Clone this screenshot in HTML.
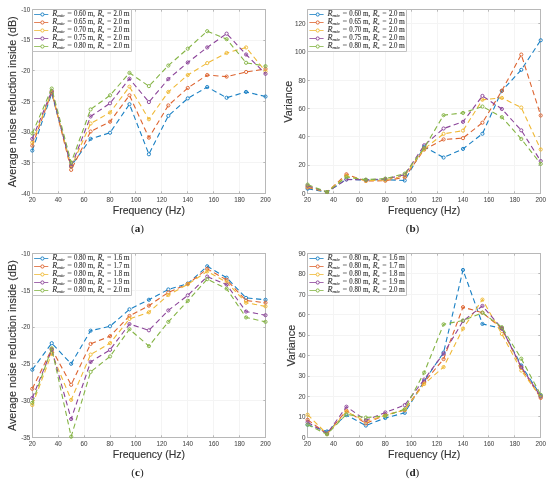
<!DOCTYPE html>
<html><head><meta charset="utf-8"><title>Figure</title>
<style>
html,body{margin:0;padding:0;background:#fff;}
body{width:550px;height:482px;overflow:hidden;}
svg{display:block;font-family:'Liberation Sans',Arial,sans-serif;}
.lg{font-family:'Liberation Serif',serif;font-size:7.4px;fill:#3a3a3a;stroke:#3a3a3a;stroke-width:0.14px;}
.i{font-style:italic;}
.e{stroke:none;fill:#7a7a7a;}
.s{font-size:4.9px;font-style:italic;}
.tk{font-size:6.3px;fill:#4a4a4a;stroke:#4a4a4a;stroke-width:0.06px;}
.xl{font-size:10.5px;fill:#333333;stroke:#333333;stroke-width:0.12px;}
.yl{font-size:10.8px;fill:#333333;stroke:#333333;stroke-width:0.12px;}
</style></head><body>
<svg width="550" height="482" viewBox="0 0 550 482">
<rect width="550" height="482" fill="#fff"/>
<path d="M58.5 9.5V193.5M84.5 9.5V193.5M110.5 9.5V193.5M135.5 9.5V193.5M161.5 9.5V193.5M187.5 9.5V193.5M213.5 9.5V193.5M239.5 9.5V193.5M32.5 162.5H265.5M32.5 132.5H265.5M32.5 101.5H265.5M32.5 70.5H265.5M32.5 40.5H265.5" stroke="#f4f4f4" stroke-width="1" fill="none"/>
<path d="M32.5 193.5v-2.2M32.5 9.5v2.2M58.5 193.5v-2.2M58.5 9.5v2.2M84.5 193.5v-2.2M84.5 9.5v2.2M110.5 193.5v-2.2M110.5 9.5v2.2M135.5 193.5v-2.2M135.5 9.5v2.2M161.5 193.5v-2.2M161.5 9.5v2.2M187.5 193.5v-2.2M187.5 9.5v2.2M213.5 193.5v-2.2M213.5 9.5v2.2M239.5 193.5v-2.2M239.5 9.5v2.2M265.5 193.5v-2.2M265.5 9.5v2.2M32.5 193.5h2.2M265.5 193.5h-2.2M32.5 162.5h2.2M265.5 162.5h-2.2M32.5 132.5h2.2M265.5 132.5h-2.2M32.5 101.5h2.2M265.5 101.5h-2.2M32.5 70.5h2.2M265.5 70.5h-2.2M32.5 40.5h2.2M265.5 40.5h-2.2M32.5 9.5h2.2M265.5 9.5h-2.2" stroke="#b8b8b8" stroke-width="1" fill="none"/>
<rect x="32.5" y="9.5" width="233" height="184" stroke="#b8b8b8" stroke-width="1" fill="none"/>
<polyline points="32.3,150.54 51.73,93.47 71.17,165.88 90.6,138.88 110.03,132.75 129.47,104.21 148.9,154.23 168.33,115.87 187.77,98.38 207.2,87.03 226.63,97.77 246.07,91.94 265.5,96.54" stroke="#1a80c4" stroke-width="1.1" stroke-dasharray="5.3 3.4" fill="none"/>
<g stroke="#1a80c4" stroke-width="0.95" fill="none"><circle cx="32.3" cy="150.54" r="1.6"/><circle cx="51.73" cy="93.47" r="1.6"/><circle cx="71.17" cy="165.88" r="1.6"/><circle cx="90.6" cy="138.88" r="1.6"/><circle cx="110.03" cy="132.75" r="1.6"/><circle cx="129.47" cy="104.21" r="1.6"/><circle cx="148.9" cy="154.23" r="1.6"/><circle cx="168.33" cy="115.87" r="1.6"/><circle cx="187.77" cy="98.38" r="1.6"/><circle cx="207.2" cy="87.03" r="1.6"/><circle cx="226.63" cy="97.77" r="1.6"/><circle cx="246.07" cy="91.94" r="1.6"/><circle cx="265.5" cy="96.54" r="1.6"/></g>
<polyline points="32.3,145.63 51.73,92.24 71.17,169.87 90.6,131.52 110.03,121.7 129.47,95.31 148.9,137.66 168.33,105.44 187.77,87.95 207.2,75.06 226.63,76.6 246.07,71.99 265.5,68.93" stroke="#dd6430" stroke-width="1.1" stroke-dasharray="5.3 3.4" fill="none"/>
<g stroke="#dd6430" stroke-width="0.95" fill="none"><circle cx="32.3" cy="145.63" r="1.6"/><circle cx="51.73" cy="92.24" r="1.6"/><circle cx="71.17" cy="169.87" r="1.6"/><circle cx="90.6" cy="131.52" r="1.6"/><circle cx="110.03" cy="121.7" r="1.6"/><circle cx="129.47" cy="95.31" r="1.6"/><circle cx="148.9" cy="137.66" r="1.6"/><circle cx="168.33" cy="105.44" r="1.6"/><circle cx="187.77" cy="87.95" r="1.6"/><circle cx="207.2" cy="75.06" r="1.6"/><circle cx="226.63" cy="76.6" r="1.6"/><circle cx="246.07" cy="71.99" r="1.6"/><circle cx="265.5" cy="68.93" r="1.6"/></g>
<polyline points="32.3,142.57 51.73,91.63 71.17,167.11 90.6,123.54 110.03,112.5 129.47,86.72 148.9,119.25 168.33,91.94 187.77,75.06 207.2,63.1 226.63,52.97 246.07,47.45 265.5,71.38" stroke="#efb936" stroke-width="1.1" stroke-dasharray="5.3 3.4" fill="none"/>
<g stroke="#efb936" stroke-width="0.95" fill="none"><circle cx="32.3" cy="142.57" r="1.6"/><circle cx="51.73" cy="91.63" r="1.6"/><circle cx="71.17" cy="167.11" r="1.6"/><circle cx="90.6" cy="123.54" r="1.6"/><circle cx="110.03" cy="112.5" r="1.6"/><circle cx="129.47" cy="86.72" r="1.6"/><circle cx="148.9" cy="119.25" r="1.6"/><circle cx="168.33" cy="91.94" r="1.6"/><circle cx="187.77" cy="75.06" r="1.6"/><circle cx="207.2" cy="63.1" r="1.6"/><circle cx="226.63" cy="52.97" r="1.6"/><circle cx="246.07" cy="47.45" r="1.6"/><circle cx="265.5" cy="71.38" r="1.6"/></g>
<polyline points="32.3,138.88 51.73,91.02 71.17,166.5 90.6,116.48 110.03,103.29 129.47,78.74 148.9,102.06 168.33,79.05 187.77,62.48 207.2,47.45 226.63,33.64 246.07,54.5 265.5,73.83" stroke="#8b4499" stroke-width="1.1" stroke-dasharray="5.3 3.4" fill="none"/>
<g stroke="#8b4499" stroke-width="0.95" fill="none"><circle cx="32.3" cy="138.88" r="1.6"/><circle cx="51.73" cy="91.02" r="1.6"/><circle cx="71.17" cy="166.5" r="1.6"/><circle cx="90.6" cy="116.48" r="1.6"/><circle cx="110.03" cy="103.29" r="1.6"/><circle cx="129.47" cy="78.74" r="1.6"/><circle cx="148.9" cy="102.06" r="1.6"/><circle cx="168.33" cy="79.05" r="1.6"/><circle cx="187.77" cy="62.48" r="1.6"/><circle cx="207.2" cy="47.45" r="1.6"/><circle cx="226.63" cy="33.64" r="1.6"/><circle cx="246.07" cy="54.5" r="1.6"/><circle cx="265.5" cy="73.83" r="1.6"/></g>
<polyline points="32.3,133.36 51.73,88.56 71.17,162.51 90.6,109.43 110.03,95.31 129.47,72.91 148.9,86.11 168.33,65.55 187.77,48.67 207.2,31.19 226.63,39.16 246.07,62.79 265.5,66.16" stroke="#85b445" stroke-width="1.1" stroke-dasharray="5.3 3.4" fill="none"/>
<g stroke="#85b445" stroke-width="0.95" fill="none"><circle cx="32.3" cy="133.36" r="1.6"/><circle cx="51.73" cy="88.56" r="1.6"/><circle cx="71.17" cy="162.51" r="1.6"/><circle cx="90.6" cy="109.43" r="1.6"/><circle cx="110.03" cy="95.31" r="1.6"/><circle cx="129.47" cy="72.91" r="1.6"/><circle cx="148.9" cy="86.11" r="1.6"/><circle cx="168.33" cy="65.55" r="1.6"/><circle cx="187.77" cy="48.67" r="1.6"/><circle cx="207.2" cy="31.19" r="1.6"/><circle cx="226.63" cy="39.16" r="1.6"/><circle cx="246.07" cy="62.79" r="1.6"/><circle cx="265.5" cy="66.16" r="1.6"/></g>
<g class="tk" text-anchor="middle"><text x="32.3" y="201.8">20</text><text x="58.21" y="201.8">40</text><text x="84.12" y="201.8">60</text><text x="110.03" y="201.8">80</text><text x="135.94" y="201.8">100</text><text x="161.86" y="201.8">120</text><text x="187.77" y="201.8">140</text><text x="213.68" y="201.8">160</text><text x="239.59" y="201.8">180</text><text x="265.5" y="201.8">200</text></g>
<g class="tk" text-anchor="end"><text x="30.3" y="195.8">-40</text><text x="30.3" y="165.12">-35</text><text x="30.3" y="134.43">-30</text><text x="30.3" y="103.75">-25</text><text x="30.3" y="73.07">-20</text><text x="30.3" y="42.38">-15</text><text x="30.3" y="11.7">-10</text></g>
<text x="148.9" y="213.8" class="xl" text-anchor="middle">Frequency (Hz)</text>
<text transform="translate(16.3 101.75) rotate(-90)" class="yl" text-anchor="middle">Average noise reduction inside (dB)</text>
<text x="137.5" y="232.3" font-family="'Liberation Serif', serif" font-size="11.1" fill="#222" text-anchor="middle">(<tspan font-weight="bold">a</tspan>)</text>
<rect x="32.5" y="9.5" width="99" height="42" fill="#fff"/>
<path d="M32.5 51.5H131.5V9.5" stroke="#c2c2c2" stroke-width="1" fill="none"/>
<path d="M32.5 51.5V9.5H131.5" stroke="#b8b8b8" stroke-width="1" fill="none"/>
<path d="M34.1 14.5H48.3" stroke="#338eca" stroke-width="0.9"/>
<circle cx="42.4" cy="14.5" r="1.6" stroke="#1a80c4" stroke-width="0.95" fill="#fff"/>
<g class="lg" transform="translate(52.3 16.4) scale(1 1.0)"><text x="0" y="0" textLength="5" lengthAdjust="spacingAndGlyphs" class="i">R</text><text x="5" y="0.5" textLength="7.2" lengthAdjust="spacingAndGlyphs" class="s">mic</text><text x="14.9" y="0" textLength="4.7" lengthAdjust="spacingAndGlyphs" class="e">=</text><text x="21.7" y="0" textLength="11.9" lengthAdjust="spacingAndGlyphs">0.60</text><text x="35.5" y="0" textLength="7.3" lengthAdjust="spacingAndGlyphs">m,</text><text x="45.1" y="0" textLength="4.8" lengthAdjust="spacingAndGlyphs" class="i">R</text><text x="49.9" y="0.5" textLength="1.9" lengthAdjust="spacingAndGlyphs" class="s">s</text><text x="54.7" y="0" textLength="4.4" lengthAdjust="spacingAndGlyphs" class="e">=</text><text x="61.3" y="0" textLength="8.5" lengthAdjust="spacingAndGlyphs">2.0</text><text x="71.5" y="0" textLength="5.8" lengthAdjust="spacingAndGlyphs">m</text></g>
<path d="M34.1 22.5H48.3" stroke="#e17547" stroke-width="0.9"/>
<circle cx="42.4" cy="22.5" r="1.6" stroke="#dd6430" stroke-width="0.95" fill="#fff"/>
<g class="lg" transform="translate(52.3 24.4) scale(1 1.0)"><text x="0" y="0" textLength="5" lengthAdjust="spacingAndGlyphs" class="i">R</text><text x="5" y="0.5" textLength="7.2" lengthAdjust="spacingAndGlyphs" class="s">mic</text><text x="14.9" y="0" textLength="4.7" lengthAdjust="spacingAndGlyphs" class="e">=</text><text x="21.7" y="0" textLength="11.9" lengthAdjust="spacingAndGlyphs">0.65</text><text x="35.5" y="0" textLength="7.3" lengthAdjust="spacingAndGlyphs">m,</text><text x="45.1" y="0" textLength="4.8" lengthAdjust="spacingAndGlyphs" class="i">R</text><text x="49.9" y="0.5" textLength="1.9" lengthAdjust="spacingAndGlyphs" class="s">s</text><text x="54.7" y="0" textLength="4.4" lengthAdjust="spacingAndGlyphs" class="e">=</text><text x="61.3" y="0" textLength="8.5" lengthAdjust="spacingAndGlyphs">2.0</text><text x="71.5" y="0" textLength="5.8" lengthAdjust="spacingAndGlyphs">m</text></g>
<path d="M34.1 30.5H48.3" stroke="#f1c14d" stroke-width="0.9"/>
<circle cx="42.4" cy="30.5" r="1.6" stroke="#efb936" stroke-width="0.95" fill="#fff"/>
<g class="lg" transform="translate(52.3 32.4) scale(1 1.0)"><text x="0" y="0" textLength="5" lengthAdjust="spacingAndGlyphs" class="i">R</text><text x="5" y="0.5" textLength="7.2" lengthAdjust="spacingAndGlyphs" class="s">mic</text><text x="14.9" y="0" textLength="4.7" lengthAdjust="spacingAndGlyphs" class="e">=</text><text x="21.7" y="0" textLength="11.9" lengthAdjust="spacingAndGlyphs">0.70</text><text x="35.5" y="0" textLength="7.3" lengthAdjust="spacingAndGlyphs">m,</text><text x="45.1" y="0" textLength="4.8" lengthAdjust="spacingAndGlyphs" class="i">R</text><text x="49.9" y="0.5" textLength="1.9" lengthAdjust="spacingAndGlyphs" class="s">s</text><text x="54.7" y="0" textLength="4.4" lengthAdjust="spacingAndGlyphs" class="e">=</text><text x="61.3" y="0" textLength="8.5" lengthAdjust="spacingAndGlyphs">2.0</text><text x="71.5" y="0" textLength="5.8" lengthAdjust="spacingAndGlyphs">m</text></g>
<path d="M34.1 38.5H48.3" stroke="#9859a5" stroke-width="0.9"/>
<circle cx="42.4" cy="38.5" r="1.6" stroke="#8b4499" stroke-width="0.95" fill="#fff"/>
<g class="lg" transform="translate(52.3 40.4) scale(1 1.0)"><text x="0" y="0" textLength="5" lengthAdjust="spacingAndGlyphs" class="i">R</text><text x="5" y="0.5" textLength="7.2" lengthAdjust="spacingAndGlyphs" class="s">mic</text><text x="14.9" y="0" textLength="4.7" lengthAdjust="spacingAndGlyphs" class="e">=</text><text x="21.7" y="0" textLength="11.9" lengthAdjust="spacingAndGlyphs">0.75</text><text x="35.5" y="0" textLength="7.3" lengthAdjust="spacingAndGlyphs">m,</text><text x="45.1" y="0" textLength="4.8" lengthAdjust="spacingAndGlyphs" class="i">R</text><text x="49.9" y="0.5" textLength="1.9" lengthAdjust="spacingAndGlyphs" class="s">s</text><text x="54.7" y="0" textLength="4.4" lengthAdjust="spacingAndGlyphs" class="e">=</text><text x="61.3" y="0" textLength="8.5" lengthAdjust="spacingAndGlyphs">2.0</text><text x="71.5" y="0" textLength="5.8" lengthAdjust="spacingAndGlyphs">m</text></g>
<path d="M34.1 46.5H48.3" stroke="#92bd59" stroke-width="0.9"/>
<circle cx="42.4" cy="46.5" r="1.6" stroke="#85b445" stroke-width="0.95" fill="#fff"/>
<g class="lg" transform="translate(52.3 48.4) scale(1 1.0)"><text x="0" y="0" textLength="5" lengthAdjust="spacingAndGlyphs" class="i">R</text><text x="5" y="0.5" textLength="7.2" lengthAdjust="spacingAndGlyphs" class="s">mic</text><text x="14.9" y="0" textLength="4.7" lengthAdjust="spacingAndGlyphs" class="e">=</text><text x="21.7" y="0" textLength="11.9" lengthAdjust="spacingAndGlyphs">0.80</text><text x="35.5" y="0" textLength="7.3" lengthAdjust="spacingAndGlyphs">m,</text><text x="45.1" y="0" textLength="4.8" lengthAdjust="spacingAndGlyphs" class="i">R</text><text x="49.9" y="0.5" textLength="1.9" lengthAdjust="spacingAndGlyphs" class="s">s</text><text x="54.7" y="0" textLength="4.4" lengthAdjust="spacingAndGlyphs" class="e">=</text><text x="61.3" y="0" textLength="8.5" lengthAdjust="spacingAndGlyphs">2.0</text><text x="71.5" y="0" textLength="5.8" lengthAdjust="spacingAndGlyphs">m</text></g>
<path d="M333.5 9.5V193.5M359.5 9.5V193.5M385.5 9.5V193.5M411.5 9.5V193.5M437.5 9.5V193.5M463.5 9.5V193.5M488.5 9.5V193.5M514.5 9.5V193.5M307.5 165.5H540.5M307.5 136.5H540.5M307.5 108.5H540.5M307.5 80.5H540.5M307.5 51.5H540.5M307.5 23.5H540.5" stroke="#f4f4f4" stroke-width="1" fill="none"/>
<path d="M307.5 193.5v-2.2M307.5 9.5v2.2M333.5 193.5v-2.2M333.5 9.5v2.2M359.5 193.5v-2.2M359.5 9.5v2.2M385.5 193.5v-2.2M385.5 9.5v2.2M411.5 193.5v-2.2M411.5 9.5v2.2M437.5 193.5v-2.2M437.5 9.5v2.2M463.5 193.5v-2.2M463.5 9.5v2.2M488.5 193.5v-2.2M488.5 9.5v2.2M514.5 193.5v-2.2M514.5 9.5v2.2M540.5 193.5v-2.2M540.5 9.5v2.2M307.5 193.5h2.2M540.5 193.5h-2.2M307.5 165.5h2.2M540.5 165.5h-2.2M307.5 136.5h2.2M540.5 136.5h-2.2M307.5 108.5h2.2M540.5 108.5h-2.2M307.5 80.5h2.2M540.5 80.5h-2.2M307.5 51.5h2.2M540.5 51.5h-2.2M307.5 23.5h2.2M540.5 23.5h-2.2" stroke="#b8b8b8" stroke-width="1" fill="none"/>
<rect x="307.5" y="9.5" width="233" height="184" stroke="#b8b8b8" stroke-width="1" fill="none"/>
<polyline points="307.6,188.69 327.03,192.08 346.45,179.34 365.88,180.05 385.3,179.62 404.73,180.47 424.15,146.77 443.58,157.53 463,148.89 482.43,133.74 501.85,90.83 521.28,69.87 540.7,40.27" stroke="#1a80c4" stroke-width="1.1" stroke-dasharray="5.3 3.4" fill="none"/>
<g stroke="#1a80c4" stroke-width="0.95" fill="none"><circle cx="307.6" cy="188.69" r="1.6"/><circle cx="327.03" cy="192.08" r="1.6"/><circle cx="346.45" cy="179.34" r="1.6"/><circle cx="365.88" cy="180.05" r="1.6"/><circle cx="385.3" cy="179.62" r="1.6"/><circle cx="404.73" cy="180.47" r="1.6"/><circle cx="424.15" cy="146.77" r="1.6"/><circle cx="443.58" cy="157.53" r="1.6"/><circle cx="463" cy="148.89" r="1.6"/><circle cx="482.43" cy="133.74" r="1.6"/><circle cx="501.85" cy="90.83" r="1.6"/><circle cx="521.28" cy="69.87" r="1.6"/><circle cx="540.7" cy="40.27" r="1.6"/></g>
<polyline points="307.6,187.41 327.03,192.08 346.45,174.24 365.88,181.04 385.3,180.75 404.73,177.36 424.15,149.6 443.58,139.4 463,138.13 482.43,122.69 501.85,90.83 521.28,54.58 540.7,115.47" stroke="#dd6430" stroke-width="1.1" stroke-dasharray="5.3 3.4" fill="none"/>
<g stroke="#dd6430" stroke-width="0.95" fill="none"><circle cx="307.6" cy="187.41" r="1.6"/><circle cx="327.03" cy="192.08" r="1.6"/><circle cx="346.45" cy="174.24" r="1.6"/><circle cx="365.88" cy="181.04" r="1.6"/><circle cx="385.3" cy="180.75" r="1.6"/><circle cx="404.73" cy="177.36" r="1.6"/><circle cx="424.15" cy="149.6" r="1.6"/><circle cx="443.58" cy="139.4" r="1.6"/><circle cx="463" cy="138.13" r="1.6"/><circle cx="482.43" cy="122.69" r="1.6"/><circle cx="501.85" cy="90.83" r="1.6"/><circle cx="521.28" cy="54.58" r="1.6"/><circle cx="540.7" cy="115.47" r="1.6"/></g>
<polyline points="307.6,186.7 327.03,192.08 346.45,175.94 365.88,180.75 385.3,179.9 404.73,175.8 424.15,148.89 443.58,133.88 463,130.62 482.43,99.75 501.85,97.91 521.28,107.54 540.7,149.46" stroke="#efb936" stroke-width="1.1" stroke-dasharray="5.3 3.4" fill="none"/>
<g stroke="#efb936" stroke-width="0.95" fill="none"><circle cx="307.6" cy="186.7" r="1.6"/><circle cx="327.03" cy="192.08" r="1.6"/><circle cx="346.45" cy="175.94" r="1.6"/><circle cx="365.88" cy="180.75" r="1.6"/><circle cx="385.3" cy="179.9" r="1.6"/><circle cx="404.73" cy="175.8" r="1.6"/><circle cx="424.15" cy="148.89" r="1.6"/><circle cx="443.58" cy="133.88" r="1.6"/><circle cx="463" cy="130.62" r="1.6"/><circle cx="482.43" cy="99.75" r="1.6"/><circle cx="501.85" cy="97.91" r="1.6"/><circle cx="521.28" cy="107.54" r="1.6"/><circle cx="540.7" cy="149.46" r="1.6"/></g>
<polyline points="307.6,185.71 327.03,192.08 346.45,179.48 365.88,179.9 385.3,178.91 404.73,174.81 424.15,145.35 443.58,128.5 463,121.84 482.43,95.93 501.85,108.96 521.28,130.34 540.7,161.07" stroke="#8b4499" stroke-width="1.1" stroke-dasharray="5.3 3.4" fill="none"/>
<g stroke="#8b4499" stroke-width="0.95" fill="none"><circle cx="307.6" cy="185.71" r="1.6"/><circle cx="327.03" cy="192.08" r="1.6"/><circle cx="346.45" cy="179.48" r="1.6"/><circle cx="365.88" cy="179.9" r="1.6"/><circle cx="385.3" cy="178.91" r="1.6"/><circle cx="404.73" cy="174.81" r="1.6"/><circle cx="424.15" cy="145.35" r="1.6"/><circle cx="443.58" cy="128.5" r="1.6"/><circle cx="463" cy="121.84" r="1.6"/><circle cx="482.43" cy="95.93" r="1.6"/><circle cx="501.85" cy="108.96" r="1.6"/><circle cx="521.28" cy="130.34" r="1.6"/><circle cx="540.7" cy="161.07" r="1.6"/></g>
<polyline points="307.6,184.58 327.03,192.08 346.45,177.07 365.88,179.62 385.3,178.63 404.73,173.67 424.15,148.18 443.58,115.19 463,112.92 482.43,106.55 501.85,117.17 521.28,138.98 540.7,163.9" stroke="#85b445" stroke-width="1.1" stroke-dasharray="5.3 3.4" fill="none"/>
<g stroke="#85b445" stroke-width="0.95" fill="none"><circle cx="307.6" cy="184.58" r="1.6"/><circle cx="327.03" cy="192.08" r="1.6"/><circle cx="346.45" cy="177.07" r="1.6"/><circle cx="365.88" cy="179.62" r="1.6"/><circle cx="385.3" cy="178.63" r="1.6"/><circle cx="404.73" cy="173.67" r="1.6"/><circle cx="424.15" cy="148.18" r="1.6"/><circle cx="443.58" cy="115.19" r="1.6"/><circle cx="463" cy="112.92" r="1.6"/><circle cx="482.43" cy="106.55" r="1.6"/><circle cx="501.85" cy="117.17" r="1.6"/><circle cx="521.28" cy="138.98" r="1.6"/><circle cx="540.7" cy="163.9" r="1.6"/></g>
<g class="tk" text-anchor="middle"><text x="307.6" y="201.8">20</text><text x="333.5" y="201.8">40</text><text x="359.4" y="201.8">60</text><text x="385.3" y="201.8">80</text><text x="411.2" y="201.8">100</text><text x="437.1" y="201.8">120</text><text x="463" y="201.8">140</text><text x="488.9" y="201.8">160</text><text x="514.8" y="201.8">180</text><text x="540.7" y="201.8">200</text></g>
<g class="tk" text-anchor="end"><text x="305.6" y="195.8">0</text><text x="305.6" y="167.48">20</text><text x="305.6" y="139.15">40</text><text x="305.6" y="110.83">60</text><text x="305.6" y="82.51">80</text><text x="305.6" y="54.18">100</text><text x="305.6" y="25.86">120</text></g>
<text x="424.15" y="213.8" class="xl" text-anchor="middle">Frequency (Hz)</text>
<text transform="translate(291.6 101.75) rotate(-90)" class="yl" text-anchor="middle">Variance</text>
<text x="412.5" y="232.3" font-family="'Liberation Serif', serif" font-size="11.1" fill="#222" text-anchor="middle">(<tspan font-weight="bold">b</tspan>)</text>
<rect x="307.5" y="9.5" width="99" height="42" fill="#fff"/>
<path d="M307.5 51.5H406.5V9.5" stroke="#c2c2c2" stroke-width="1" fill="none"/>
<path d="M307.5 51.5V9.5H406.5" stroke="#b8b8b8" stroke-width="1" fill="none"/>
<path d="M309.4 14.5H323.6" stroke="#338eca" stroke-width="0.9"/>
<circle cx="317.7" cy="14.5" r="1.6" stroke="#1a80c4" stroke-width="0.95" fill="#fff"/>
<g class="lg" transform="translate(327.6 16.4) scale(1 1.0)"><text x="0" y="0" textLength="5" lengthAdjust="spacingAndGlyphs" class="i">R</text><text x="5" y="0.5" textLength="7.2" lengthAdjust="spacingAndGlyphs" class="s">mic</text><text x="14.9" y="0" textLength="4.7" lengthAdjust="spacingAndGlyphs" class="e">=</text><text x="21.7" y="0" textLength="11.9" lengthAdjust="spacingAndGlyphs">0.60</text><text x="35.5" y="0" textLength="7.3" lengthAdjust="spacingAndGlyphs">m,</text><text x="45.1" y="0" textLength="4.8" lengthAdjust="spacingAndGlyphs" class="i">R</text><text x="49.9" y="0.5" textLength="1.9" lengthAdjust="spacingAndGlyphs" class="s">s</text><text x="54.7" y="0" textLength="4.4" lengthAdjust="spacingAndGlyphs" class="e">=</text><text x="61.3" y="0" textLength="8.5" lengthAdjust="spacingAndGlyphs">2.0</text><text x="71.5" y="0" textLength="5.8" lengthAdjust="spacingAndGlyphs">m</text></g>
<path d="M309.4 22.5H323.6" stroke="#e17547" stroke-width="0.9"/>
<circle cx="317.7" cy="22.5" r="1.6" stroke="#dd6430" stroke-width="0.95" fill="#fff"/>
<g class="lg" transform="translate(327.6 24.4) scale(1 1.0)"><text x="0" y="0" textLength="5" lengthAdjust="spacingAndGlyphs" class="i">R</text><text x="5" y="0.5" textLength="7.2" lengthAdjust="spacingAndGlyphs" class="s">mic</text><text x="14.9" y="0" textLength="4.7" lengthAdjust="spacingAndGlyphs" class="e">=</text><text x="21.7" y="0" textLength="11.9" lengthAdjust="spacingAndGlyphs">0.65</text><text x="35.5" y="0" textLength="7.3" lengthAdjust="spacingAndGlyphs">m,</text><text x="45.1" y="0" textLength="4.8" lengthAdjust="spacingAndGlyphs" class="i">R</text><text x="49.9" y="0.5" textLength="1.9" lengthAdjust="spacingAndGlyphs" class="s">s</text><text x="54.7" y="0" textLength="4.4" lengthAdjust="spacingAndGlyphs" class="e">=</text><text x="61.3" y="0" textLength="8.5" lengthAdjust="spacingAndGlyphs">2.0</text><text x="71.5" y="0" textLength="5.8" lengthAdjust="spacingAndGlyphs">m</text></g>
<path d="M309.4 30.5H323.6" stroke="#f1c14d" stroke-width="0.9"/>
<circle cx="317.7" cy="30.5" r="1.6" stroke="#efb936" stroke-width="0.95" fill="#fff"/>
<g class="lg" transform="translate(327.6 32.4) scale(1 1.0)"><text x="0" y="0" textLength="5" lengthAdjust="spacingAndGlyphs" class="i">R</text><text x="5" y="0.5" textLength="7.2" lengthAdjust="spacingAndGlyphs" class="s">mic</text><text x="14.9" y="0" textLength="4.7" lengthAdjust="spacingAndGlyphs" class="e">=</text><text x="21.7" y="0" textLength="11.9" lengthAdjust="spacingAndGlyphs">0.70</text><text x="35.5" y="0" textLength="7.3" lengthAdjust="spacingAndGlyphs">m,</text><text x="45.1" y="0" textLength="4.8" lengthAdjust="spacingAndGlyphs" class="i">R</text><text x="49.9" y="0.5" textLength="1.9" lengthAdjust="spacingAndGlyphs" class="s">s</text><text x="54.7" y="0" textLength="4.4" lengthAdjust="spacingAndGlyphs" class="e">=</text><text x="61.3" y="0" textLength="8.5" lengthAdjust="spacingAndGlyphs">2.0</text><text x="71.5" y="0" textLength="5.8" lengthAdjust="spacingAndGlyphs">m</text></g>
<path d="M309.4 38.5H323.6" stroke="#9859a5" stroke-width="0.9"/>
<circle cx="317.7" cy="38.5" r="1.6" stroke="#8b4499" stroke-width="0.95" fill="#fff"/>
<g class="lg" transform="translate(327.6 40.4) scale(1 1.0)"><text x="0" y="0" textLength="5" lengthAdjust="spacingAndGlyphs" class="i">R</text><text x="5" y="0.5" textLength="7.2" lengthAdjust="spacingAndGlyphs" class="s">mic</text><text x="14.9" y="0" textLength="4.7" lengthAdjust="spacingAndGlyphs" class="e">=</text><text x="21.7" y="0" textLength="11.9" lengthAdjust="spacingAndGlyphs">0.75</text><text x="35.5" y="0" textLength="7.3" lengthAdjust="spacingAndGlyphs">m,</text><text x="45.1" y="0" textLength="4.8" lengthAdjust="spacingAndGlyphs" class="i">R</text><text x="49.9" y="0.5" textLength="1.9" lengthAdjust="spacingAndGlyphs" class="s">s</text><text x="54.7" y="0" textLength="4.4" lengthAdjust="spacingAndGlyphs" class="e">=</text><text x="61.3" y="0" textLength="8.5" lengthAdjust="spacingAndGlyphs">2.0</text><text x="71.5" y="0" textLength="5.8" lengthAdjust="spacingAndGlyphs">m</text></g>
<path d="M309.4 46.5H323.6" stroke="#92bd59" stroke-width="0.9"/>
<circle cx="317.7" cy="46.5" r="1.6" stroke="#85b445" stroke-width="0.95" fill="#fff"/>
<g class="lg" transform="translate(327.6 48.4) scale(1 1.0)"><text x="0" y="0" textLength="5" lengthAdjust="spacingAndGlyphs" class="i">R</text><text x="5" y="0.5" textLength="7.2" lengthAdjust="spacingAndGlyphs" class="s">mic</text><text x="14.9" y="0" textLength="4.7" lengthAdjust="spacingAndGlyphs" class="e">=</text><text x="21.7" y="0" textLength="11.9" lengthAdjust="spacingAndGlyphs">0.80</text><text x="35.5" y="0" textLength="7.3" lengthAdjust="spacingAndGlyphs">m,</text><text x="45.1" y="0" textLength="4.8" lengthAdjust="spacingAndGlyphs" class="i">R</text><text x="49.9" y="0.5" textLength="1.9" lengthAdjust="spacingAndGlyphs" class="s">s</text><text x="54.7" y="0" textLength="4.4" lengthAdjust="spacingAndGlyphs" class="e">=</text><text x="61.3" y="0" textLength="8.5" lengthAdjust="spacingAndGlyphs">2.0</text><text x="71.5" y="0" textLength="5.8" lengthAdjust="spacingAndGlyphs">m</text></g>
<path d="M58.5 253.5V437.5M84.5 253.5V437.5M110.5 253.5V437.5M135.5 253.5V437.5M161.5 253.5V437.5M187.5 253.5V437.5M213.5 253.5V437.5M239.5 253.5V437.5M32.5 400.5H265.5M32.5 363.5H265.5M32.5 327.5H265.5M32.5 290.5H265.5" stroke="#f4f4f4" stroke-width="1" fill="none"/>
<path d="M32.5 437.5v-2.2M32.5 253.5v2.2M58.5 437.5v-2.2M58.5 253.5v2.2M84.5 437.5v-2.2M84.5 253.5v2.2M110.5 437.5v-2.2M110.5 253.5v2.2M135.5 437.5v-2.2M135.5 253.5v2.2M161.5 437.5v-2.2M161.5 253.5v2.2M187.5 437.5v-2.2M187.5 253.5v2.2M213.5 437.5v-2.2M213.5 253.5v2.2M239.5 437.5v-2.2M239.5 253.5v2.2M265.5 437.5v-2.2M265.5 253.5v2.2M32.5 437.5h2.2M265.5 437.5h-2.2M32.5 400.5h2.2M265.5 400.5h-2.2M32.5 363.5h2.2M265.5 363.5h-2.2M32.5 327.5h2.2M265.5 327.5h-2.2M32.5 290.5h2.2M265.5 290.5h-2.2M32.5 253.5h2.2M265.5 253.5h-2.2" stroke="#b8b8b8" stroke-width="1" fill="none"/>
<rect x="32.5" y="253.5" width="233" height="184" stroke="#b8b8b8" stroke-width="1" fill="none"/>
<polyline points="32.3,369.69 51.73,343.19 71.17,363.8 90.6,330.68 110.03,326.26 129.47,309.34 148.9,299.77 168.33,289.46 187.77,283.58 207.2,266.28 226.63,277.69 246.07,297.93 265.5,299.77" stroke="#1a80c4" stroke-width="1.1" stroke-dasharray="5.3 3.4" fill="none"/>
<g stroke="#1a80c4" stroke-width="0.95" fill="none"><circle cx="32.3" cy="369.69" r="1.6"/><circle cx="51.73" cy="343.19" r="1.6"/><circle cx="71.17" cy="363.8" r="1.6"/><circle cx="90.6" cy="330.68" r="1.6"/><circle cx="110.03" cy="326.26" r="1.6"/><circle cx="129.47" cy="309.34" r="1.6"/><circle cx="148.9" cy="299.77" r="1.6"/><circle cx="168.33" cy="289.46" r="1.6"/><circle cx="187.77" cy="283.58" r="1.6"/><circle cx="207.2" cy="266.28" r="1.6"/><circle cx="226.63" cy="277.69" r="1.6"/><circle cx="246.07" cy="297.93" r="1.6"/><circle cx="265.5" cy="299.77" r="1.6"/></g>
<polyline points="32.3,388.82 51.73,349.08 71.17,384.78 90.6,343.93 110.03,336.2 129.47,315.96 148.9,305.66 168.33,292.41 187.77,283.94 207.2,268.86 226.63,279.9 246.07,300.5 265.5,302.71" stroke="#dd6430" stroke-width="1.1" stroke-dasharray="5.3 3.4" fill="none"/>
<g stroke="#dd6430" stroke-width="0.95" fill="none"><circle cx="32.3" cy="388.82" r="1.6"/><circle cx="51.73" cy="349.08" r="1.6"/><circle cx="71.17" cy="384.78" r="1.6"/><circle cx="90.6" cy="343.93" r="1.6"/><circle cx="110.03" cy="336.2" r="1.6"/><circle cx="129.47" cy="315.96" r="1.6"/><circle cx="148.9" cy="305.66" r="1.6"/><circle cx="168.33" cy="292.41" r="1.6"/><circle cx="187.77" cy="283.94" r="1.6"/><circle cx="207.2" cy="268.86" r="1.6"/><circle cx="226.63" cy="279.9" r="1.6"/><circle cx="246.07" cy="300.5" r="1.6"/><circle cx="265.5" cy="302.71" r="1.6"/></g>
<polyline points="32.3,405.02 51.73,353.5 71.17,399.86 90.6,354.6 110.03,343.19 129.47,318.9 148.9,312.28 168.33,294.98 187.77,284.31 207.2,271.43 226.63,282.1 246.07,302.71 265.5,306.39" stroke="#efb936" stroke-width="1.1" stroke-dasharray="5.3 3.4" fill="none"/>
<g stroke="#efb936" stroke-width="0.95" fill="none"><circle cx="32.3" cy="405.02" r="1.6"/><circle cx="51.73" cy="353.5" r="1.6"/><circle cx="71.17" cy="399.86" r="1.6"/><circle cx="90.6" cy="354.6" r="1.6"/><circle cx="110.03" cy="343.19" r="1.6"/><circle cx="129.47" cy="318.9" r="1.6"/><circle cx="148.9" cy="312.28" r="1.6"/><circle cx="168.33" cy="294.98" r="1.6"/><circle cx="187.77" cy="284.31" r="1.6"/><circle cx="207.2" cy="271.43" r="1.6"/><circle cx="226.63" cy="282.1" r="1.6"/><circle cx="246.07" cy="302.71" r="1.6"/><circle cx="265.5" cy="306.39" r="1.6"/></g>
<polyline points="32.3,398.02 51.73,349.82 71.17,419 90.6,361.96 110.03,349.82 129.47,324.06 148.9,330.31 168.33,310.44 187.77,295.35 207.2,276.58 226.63,284.68 246.07,311.54 265.5,315.22" stroke="#8b4499" stroke-width="1.1" stroke-dasharray="5.3 3.4" fill="none"/>
<g stroke="#8b4499" stroke-width="0.95" fill="none"><circle cx="32.3" cy="398.02" r="1.6"/><circle cx="51.73" cy="349.82" r="1.6"/><circle cx="71.17" cy="419" r="1.6"/><circle cx="90.6" cy="361.96" r="1.6"/><circle cx="110.03" cy="349.82" r="1.6"/><circle cx="129.47" cy="324.06" r="1.6"/><circle cx="148.9" cy="330.31" r="1.6"/><circle cx="168.33" cy="310.44" r="1.6"/><circle cx="187.77" cy="295.35" r="1.6"/><circle cx="207.2" cy="276.58" r="1.6"/><circle cx="226.63" cy="284.68" r="1.6"/><circle cx="246.07" cy="311.54" r="1.6"/><circle cx="265.5" cy="315.22" r="1.6"/></g>
<polyline points="32.3,402.81 51.73,348.34 71.17,436.66 90.6,371.9 110.03,356.44 129.47,329.21 148.9,346.14 168.33,321.85 187.77,300.87 207.2,279.16 226.63,288.73 246.07,317.43 265.5,321.85" stroke="#85b445" stroke-width="1.1" stroke-dasharray="5.3 3.4" fill="none"/>
<g stroke="#85b445" stroke-width="0.95" fill="none"><circle cx="32.3" cy="402.81" r="1.6"/><circle cx="51.73" cy="348.34" r="1.6"/><circle cx="71.17" cy="436.66" r="1.6"/><circle cx="90.6" cy="371.9" r="1.6"/><circle cx="110.03" cy="356.44" r="1.6"/><circle cx="129.47" cy="329.21" r="1.6"/><circle cx="148.9" cy="346.14" r="1.6"/><circle cx="168.33" cy="321.85" r="1.6"/><circle cx="187.77" cy="300.87" r="1.6"/><circle cx="207.2" cy="279.16" r="1.6"/><circle cx="226.63" cy="288.73" r="1.6"/><circle cx="246.07" cy="317.43" r="1.6"/><circle cx="265.5" cy="321.85" r="1.6"/></g>
<g class="tk" text-anchor="middle"><text x="32.3" y="445.8">20</text><text x="58.21" y="445.8">40</text><text x="84.12" y="445.8">60</text><text x="110.03" y="445.8">80</text><text x="135.94" y="445.8">100</text><text x="161.86" y="445.8">120</text><text x="187.77" y="445.8">140</text><text x="213.68" y="445.8">160</text><text x="239.59" y="445.8">180</text><text x="265.5" y="445.8">200</text></g>
<g class="tk" text-anchor="end"><text x="30.3" y="439.7">-35</text><text x="30.3" y="402.9">-30</text><text x="30.3" y="366.1">-25</text><text x="30.3" y="329.3">-20</text><text x="30.3" y="292.5">-15</text><text x="30.3" y="255.7">-10</text></g>
<text x="148.9" y="457.8" class="xl" text-anchor="middle">Frequency (Hz)</text>
<text transform="translate(16.3 345.7) rotate(-90)" class="yl" text-anchor="middle">Average noise reduction inside (dB)</text>
<text x="137.5" y="476.3" font-family="'Liberation Serif', serif" font-size="11.1" fill="#222" text-anchor="middle">(<tspan font-weight="bold">c</tspan>)</text>
<rect x="32.5" y="253.5" width="99" height="42" fill="#fff"/>
<path d="M32.5 295.5H131.5V253.5" stroke="#c2c2c2" stroke-width="1" fill="none"/>
<path d="M32.5 295.5V253.5H131.5" stroke="#b8b8b8" stroke-width="1" fill="none"/>
<path d="M34.1 258.5H48.3" stroke="#338eca" stroke-width="0.9"/>
<circle cx="42.4" cy="258.5" r="1.6" stroke="#1a80c4" stroke-width="0.95" fill="#fff"/>
<g class="lg" transform="translate(52.3 260.4) scale(1 1.0)"><text x="0" y="0" textLength="5" lengthAdjust="spacingAndGlyphs" class="i">R</text><text x="5" y="0.5" textLength="7.2" lengthAdjust="spacingAndGlyphs" class="s">mic</text><text x="14.9" y="0" textLength="4.7" lengthAdjust="spacingAndGlyphs" class="e">=</text><text x="21.7" y="0" textLength="11.9" lengthAdjust="spacingAndGlyphs">0.80</text><text x="35.5" y="0" textLength="7.3" lengthAdjust="spacingAndGlyphs">m,</text><text x="45.1" y="0" textLength="4.8" lengthAdjust="spacingAndGlyphs" class="i">R</text><text x="49.9" y="0.5" textLength="1.9" lengthAdjust="spacingAndGlyphs" class="s">s</text><text x="54.7" y="0" textLength="4.4" lengthAdjust="spacingAndGlyphs" class="e">=</text><text x="61.3" y="0" textLength="8.5" lengthAdjust="spacingAndGlyphs">1.6</text><text x="71.5" y="0" textLength="5.8" lengthAdjust="spacingAndGlyphs">m</text></g>
<path d="M34.1 266.5H48.3" stroke="#e17547" stroke-width="0.9"/>
<circle cx="42.4" cy="266.5" r="1.6" stroke="#dd6430" stroke-width="0.95" fill="#fff"/>
<g class="lg" transform="translate(52.3 268.4) scale(1 1.0)"><text x="0" y="0" textLength="5" lengthAdjust="spacingAndGlyphs" class="i">R</text><text x="5" y="0.5" textLength="7.2" lengthAdjust="spacingAndGlyphs" class="s">mic</text><text x="14.9" y="0" textLength="4.7" lengthAdjust="spacingAndGlyphs" class="e">=</text><text x="21.7" y="0" textLength="11.9" lengthAdjust="spacingAndGlyphs">0.80</text><text x="35.5" y="0" textLength="7.3" lengthAdjust="spacingAndGlyphs">m,</text><text x="45.1" y="0" textLength="4.8" lengthAdjust="spacingAndGlyphs" class="i">R</text><text x="49.9" y="0.5" textLength="1.9" lengthAdjust="spacingAndGlyphs" class="s">s</text><text x="54.7" y="0" textLength="4.4" lengthAdjust="spacingAndGlyphs" class="e">=</text><text x="61.3" y="0" textLength="8.5" lengthAdjust="spacingAndGlyphs">1.7</text><text x="71.5" y="0" textLength="5.8" lengthAdjust="spacingAndGlyphs">m</text></g>
<path d="M34.1 274.5H48.3" stroke="#f1c14d" stroke-width="0.9"/>
<circle cx="42.4" cy="274.5" r="1.6" stroke="#efb936" stroke-width="0.95" fill="#fff"/>
<g class="lg" transform="translate(52.3 276.4) scale(1 1.0)"><text x="0" y="0" textLength="5" lengthAdjust="spacingAndGlyphs" class="i">R</text><text x="5" y="0.5" textLength="7.2" lengthAdjust="spacingAndGlyphs" class="s">mic</text><text x="14.9" y="0" textLength="4.7" lengthAdjust="spacingAndGlyphs" class="e">=</text><text x="21.7" y="0" textLength="11.9" lengthAdjust="spacingAndGlyphs">0.80</text><text x="35.5" y="0" textLength="7.3" lengthAdjust="spacingAndGlyphs">m,</text><text x="45.1" y="0" textLength="4.8" lengthAdjust="spacingAndGlyphs" class="i">R</text><text x="49.9" y="0.5" textLength="1.9" lengthAdjust="spacingAndGlyphs" class="s">s</text><text x="54.7" y="0" textLength="4.4" lengthAdjust="spacingAndGlyphs" class="e">=</text><text x="61.3" y="0" textLength="8.5" lengthAdjust="spacingAndGlyphs">1.8</text><text x="71.5" y="0" textLength="5.8" lengthAdjust="spacingAndGlyphs">m</text></g>
<path d="M34.1 282.5H48.3" stroke="#9859a5" stroke-width="0.9"/>
<circle cx="42.4" cy="282.5" r="1.6" stroke="#8b4499" stroke-width="0.95" fill="#fff"/>
<g class="lg" transform="translate(52.3 284.4) scale(1 1.0)"><text x="0" y="0" textLength="5" lengthAdjust="spacingAndGlyphs" class="i">R</text><text x="5" y="0.5" textLength="7.2" lengthAdjust="spacingAndGlyphs" class="s">mic</text><text x="14.9" y="0" textLength="4.7" lengthAdjust="spacingAndGlyphs" class="e">=</text><text x="21.7" y="0" textLength="11.9" lengthAdjust="spacingAndGlyphs">0.80</text><text x="35.5" y="0" textLength="7.3" lengthAdjust="spacingAndGlyphs">m,</text><text x="45.1" y="0" textLength="4.8" lengthAdjust="spacingAndGlyphs" class="i">R</text><text x="49.9" y="0.5" textLength="1.9" lengthAdjust="spacingAndGlyphs" class="s">s</text><text x="54.7" y="0" textLength="4.4" lengthAdjust="spacingAndGlyphs" class="e">=</text><text x="61.3" y="0" textLength="8.5" lengthAdjust="spacingAndGlyphs">1.9</text><text x="71.5" y="0" textLength="5.8" lengthAdjust="spacingAndGlyphs">m</text></g>
<path d="M34.1 290.5H48.3" stroke="#92bd59" stroke-width="0.9"/>
<circle cx="42.4" cy="290.5" r="1.6" stroke="#85b445" stroke-width="0.95" fill="#fff"/>
<g class="lg" transform="translate(52.3 292.4) scale(1 1.0)"><text x="0" y="0" textLength="5" lengthAdjust="spacingAndGlyphs" class="i">R</text><text x="5" y="0.5" textLength="7.2" lengthAdjust="spacingAndGlyphs" class="s">mic</text><text x="14.9" y="0" textLength="4.7" lengthAdjust="spacingAndGlyphs" class="e">=</text><text x="21.7" y="0" textLength="11.9" lengthAdjust="spacingAndGlyphs">0.80</text><text x="35.5" y="0" textLength="7.3" lengthAdjust="spacingAndGlyphs">m,</text><text x="45.1" y="0" textLength="4.8" lengthAdjust="spacingAndGlyphs" class="i">R</text><text x="49.9" y="0.5" textLength="1.9" lengthAdjust="spacingAndGlyphs" class="s">s</text><text x="54.7" y="0" textLength="4.4" lengthAdjust="spacingAndGlyphs" class="e">=</text><text x="61.3" y="0" textLength="8.5" lengthAdjust="spacingAndGlyphs">2.0</text><text x="71.5" y="0" textLength="5.8" lengthAdjust="spacingAndGlyphs">m</text></g>
<path d="M333.5 253.5V437.5M359.5 253.5V437.5M385.5 253.5V437.5M411.5 253.5V437.5M437.5 253.5V437.5M463.5 253.5V437.5M488.5 253.5V437.5M514.5 253.5V437.5M307.5 416.5H540.5M307.5 396.5H540.5M307.5 376.5H540.5M307.5 355.5H540.5M307.5 335.5H540.5M307.5 314.5H540.5M307.5 294.5H540.5M307.5 273.5H540.5" stroke="#f4f4f4" stroke-width="1" fill="none"/>
<path d="M307.5 437.5v-2.2M307.5 253.5v2.2M333.5 437.5v-2.2M333.5 253.5v2.2M359.5 437.5v-2.2M359.5 253.5v2.2M385.5 437.5v-2.2M385.5 253.5v2.2M411.5 437.5v-2.2M411.5 253.5v2.2M437.5 437.5v-2.2M437.5 253.5v2.2M463.5 437.5v-2.2M463.5 253.5v2.2M488.5 437.5v-2.2M488.5 253.5v2.2M514.5 437.5v-2.2M514.5 253.5v2.2M540.5 437.5v-2.2M540.5 253.5v2.2M307.5 437.5h2.2M540.5 437.5h-2.2M307.5 416.5h2.2M540.5 416.5h-2.2M307.5 396.5h2.2M540.5 396.5h-2.2M307.5 376.5h2.2M540.5 376.5h-2.2M307.5 355.5h2.2M540.5 355.5h-2.2M307.5 335.5h2.2M540.5 335.5h-2.2M307.5 314.5h2.2M540.5 314.5h-2.2M307.5 294.5h2.2M540.5 294.5h-2.2M307.5 273.5h2.2M540.5 273.5h-2.2M307.5 253.5h2.2M540.5 253.5h-2.2" stroke="#b8b8b8" stroke-width="1" fill="none"/>
<rect x="307.5" y="253.5" width="233" height="184" stroke="#b8b8b8" stroke-width="1" fill="none"/>
<polyline points="307.6,424.72 327.03,431.47 346.45,415.12 365.88,425.54 385.3,417.98 404.73,412.87 424.15,381.18 443.58,352.56 463,269.96 482.43,323.93 501.85,328.43 521.28,365.44 540.7,395.49" stroke="#1a80c4" stroke-width="1.1" stroke-dasharray="5.3 3.4" fill="none"/>
<g stroke="#1a80c4" stroke-width="0.95" fill="none"><circle cx="307.6" cy="424.72" r="1.6"/><circle cx="327.03" cy="431.47" r="1.6"/><circle cx="346.45" cy="415.12" r="1.6"/><circle cx="365.88" cy="425.54" r="1.6"/><circle cx="385.3" cy="417.98" r="1.6"/><circle cx="404.73" cy="412.87" r="1.6"/><circle cx="424.15" cy="381.18" r="1.6"/><circle cx="443.58" cy="352.56" r="1.6"/><circle cx="463" cy="269.96" r="1.6"/><circle cx="482.43" cy="323.93" r="1.6"/><circle cx="501.85" cy="328.43" r="1.6"/><circle cx="521.28" cy="365.44" r="1.6"/><circle cx="540.7" cy="395.49" r="1.6"/></g>
<polyline points="307.6,419.82 327.03,433.72 346.45,410.62 365.88,423.5 385.3,414.91 404.73,410.21 424.15,382.2 443.58,359.1 463,307.17 482.43,312.69 501.85,328.43 521.28,367.89 540.7,397.94" stroke="#dd6430" stroke-width="1.1" stroke-dasharray="5.3 3.4" fill="none"/>
<g stroke="#dd6430" stroke-width="0.95" fill="none"><circle cx="307.6" cy="419.82" r="1.6"/><circle cx="327.03" cy="433.72" r="1.6"/><circle cx="346.45" cy="410.62" r="1.6"/><circle cx="365.88" cy="423.5" r="1.6"/><circle cx="385.3" cy="414.91" r="1.6"/><circle cx="404.73" cy="410.21" r="1.6"/><circle cx="424.15" cy="382.2" r="1.6"/><circle cx="443.58" cy="359.1" r="1.6"/><circle cx="463" cy="307.17" r="1.6"/><circle cx="482.43" cy="312.69" r="1.6"/><circle cx="501.85" cy="328.43" r="1.6"/><circle cx="521.28" cy="367.89" r="1.6"/><circle cx="540.7" cy="397.94" r="1.6"/></g>
<polyline points="307.6,414.71 327.03,434.13 346.45,411.64 365.88,421.45 385.3,415.32 404.73,409.8 424.15,384.04 443.58,367.07 463,328.64 482.43,299.6 501.85,333.95 521.28,370.55 540.7,396.92" stroke="#efb936" stroke-width="1.1" stroke-dasharray="5.3 3.4" fill="none"/>
<g stroke="#efb936" stroke-width="0.95" fill="none"><circle cx="307.6" cy="414.71" r="1.6"/><circle cx="327.03" cy="434.13" r="1.6"/><circle cx="346.45" cy="411.64" r="1.6"/><circle cx="365.88" cy="421.45" r="1.6"/><circle cx="385.3" cy="415.32" r="1.6"/><circle cx="404.73" cy="409.8" r="1.6"/><circle cx="424.15" cy="384.04" r="1.6"/><circle cx="443.58" cy="367.07" r="1.6"/><circle cx="463" cy="328.64" r="1.6"/><circle cx="482.43" cy="299.6" r="1.6"/><circle cx="501.85" cy="333.95" r="1.6"/><circle cx="521.28" cy="370.55" r="1.6"/><circle cx="540.7" cy="396.92" r="1.6"/></g>
<polyline points="307.6,422.27 327.03,433.72 346.45,406.73 365.88,420.23 385.3,412.46 404.73,405.1 424.15,379.54 443.58,353.58 463,321.07 482.43,305.94 501.85,328.43 521.28,366.87 540.7,396.51" stroke="#8b4499" stroke-width="1.1" stroke-dasharray="5.3 3.4" fill="none"/>
<g stroke="#8b4499" stroke-width="0.95" fill="none"><circle cx="307.6" cy="422.27" r="1.6"/><circle cx="327.03" cy="433.72" r="1.6"/><circle cx="346.45" cy="406.73" r="1.6"/><circle cx="365.88" cy="420.23" r="1.6"/><circle cx="385.3" cy="412.46" r="1.6"/><circle cx="404.73" cy="405.1" r="1.6"/><circle cx="424.15" cy="379.54" r="1.6"/><circle cx="443.58" cy="353.58" r="1.6"/><circle cx="463" cy="321.07" r="1.6"/><circle cx="482.43" cy="305.94" r="1.6"/><circle cx="501.85" cy="328.43" r="1.6"/><circle cx="521.28" cy="366.87" r="1.6"/><circle cx="540.7" cy="396.51" r="1.6"/></g>
<polyline points="307.6,424.72 327.03,434.33 346.45,414.3 365.88,417.57 385.3,415.93 404.73,409.19 424.15,372.59 443.58,324.34 463,320.46 482.43,312.69 501.85,327.2 521.28,358.69 540.7,394.88" stroke="#85b445" stroke-width="1.1" stroke-dasharray="5.3 3.4" fill="none"/>
<g stroke="#85b445" stroke-width="0.95" fill="none"><circle cx="307.6" cy="424.72" r="1.6"/><circle cx="327.03" cy="434.33" r="1.6"/><circle cx="346.45" cy="414.3" r="1.6"/><circle cx="365.88" cy="417.57" r="1.6"/><circle cx="385.3" cy="415.93" r="1.6"/><circle cx="404.73" cy="409.19" r="1.6"/><circle cx="424.15" cy="372.59" r="1.6"/><circle cx="443.58" cy="324.34" r="1.6"/><circle cx="463" cy="320.46" r="1.6"/><circle cx="482.43" cy="312.69" r="1.6"/><circle cx="501.85" cy="327.2" r="1.6"/><circle cx="521.28" cy="358.69" r="1.6"/><circle cx="540.7" cy="394.88" r="1.6"/></g>
<g class="tk" text-anchor="middle"><text x="307.6" y="445.8">20</text><text x="333.5" y="445.8">40</text><text x="359.4" y="445.8">60</text><text x="385.3" y="445.8">80</text><text x="411.2" y="445.8">100</text><text x="437.1" y="445.8">120</text><text x="463" y="445.8">140</text><text x="488.9" y="445.8">160</text><text x="514.8" y="445.8">180</text><text x="540.7" y="445.8">200</text></g>
<g class="tk" text-anchor="end"><text x="305.6" y="439.7">0</text><text x="305.6" y="419.26">10</text><text x="305.6" y="398.81">20</text><text x="305.6" y="378.37">30</text><text x="305.6" y="357.92">40</text><text x="305.6" y="337.48">50</text><text x="305.6" y="317.03">60</text><text x="305.6" y="296.59">70</text><text x="305.6" y="276.14">80</text><text x="305.6" y="255.7">90</text></g>
<text x="424.15" y="457.8" class="xl" text-anchor="middle">Frequency (Hz)</text>
<text transform="translate(294.7 345.7) rotate(-90)" class="yl" text-anchor="middle">Variance</text>
<text x="412.5" y="476.3" font-family="'Liberation Serif', serif" font-size="11.1" fill="#222" text-anchor="middle">(<tspan font-weight="bold">d</tspan>)</text>
<rect x="307.5" y="253.5" width="99" height="42" fill="#fff"/>
<path d="M307.5 295.5H406.5V253.5" stroke="#c2c2c2" stroke-width="1" fill="none"/>
<path d="M307.5 295.5V253.5H406.5" stroke="#b8b8b8" stroke-width="1" fill="none"/>
<path d="M309.4 258.5H323.6" stroke="#338eca" stroke-width="0.9"/>
<circle cx="317.7" cy="258.5" r="1.6" stroke="#1a80c4" stroke-width="0.95" fill="#fff"/>
<g class="lg" transform="translate(327.6 260.4) scale(1 1.0)"><text x="0" y="0" textLength="5" lengthAdjust="spacingAndGlyphs" class="i">R</text><text x="5" y="0.5" textLength="7.2" lengthAdjust="spacingAndGlyphs" class="s">mic</text><text x="14.9" y="0" textLength="4.7" lengthAdjust="spacingAndGlyphs" class="e">=</text><text x="21.7" y="0" textLength="11.9" lengthAdjust="spacingAndGlyphs">0.80</text><text x="35.5" y="0" textLength="7.3" lengthAdjust="spacingAndGlyphs">m,</text><text x="45.1" y="0" textLength="4.8" lengthAdjust="spacingAndGlyphs" class="i">R</text><text x="49.9" y="0.5" textLength="1.9" lengthAdjust="spacingAndGlyphs" class="s">s</text><text x="54.7" y="0" textLength="4.4" lengthAdjust="spacingAndGlyphs" class="e">=</text><text x="61.3" y="0" textLength="8.5" lengthAdjust="spacingAndGlyphs">1.6</text><text x="71.5" y="0" textLength="5.8" lengthAdjust="spacingAndGlyphs">m</text></g>
<path d="M309.4 266.5H323.6" stroke="#e17547" stroke-width="0.9"/>
<circle cx="317.7" cy="266.5" r="1.6" stroke="#dd6430" stroke-width="0.95" fill="#fff"/>
<g class="lg" transform="translate(327.6 268.4) scale(1 1.0)"><text x="0" y="0" textLength="5" lengthAdjust="spacingAndGlyphs" class="i">R</text><text x="5" y="0.5" textLength="7.2" lengthAdjust="spacingAndGlyphs" class="s">mic</text><text x="14.9" y="0" textLength="4.7" lengthAdjust="spacingAndGlyphs" class="e">=</text><text x="21.7" y="0" textLength="11.9" lengthAdjust="spacingAndGlyphs">0.80</text><text x="35.5" y="0" textLength="7.3" lengthAdjust="spacingAndGlyphs">m,</text><text x="45.1" y="0" textLength="4.8" lengthAdjust="spacingAndGlyphs" class="i">R</text><text x="49.9" y="0.5" textLength="1.9" lengthAdjust="spacingAndGlyphs" class="s">s</text><text x="54.7" y="0" textLength="4.4" lengthAdjust="spacingAndGlyphs" class="e">=</text><text x="61.3" y="0" textLength="8.5" lengthAdjust="spacingAndGlyphs">1.7</text><text x="71.5" y="0" textLength="5.8" lengthAdjust="spacingAndGlyphs">m</text></g>
<path d="M309.4 274.5H323.6" stroke="#f1c14d" stroke-width="0.9"/>
<circle cx="317.7" cy="274.5" r="1.6" stroke="#efb936" stroke-width="0.95" fill="#fff"/>
<g class="lg" transform="translate(327.6 276.4) scale(1 1.0)"><text x="0" y="0" textLength="5" lengthAdjust="spacingAndGlyphs" class="i">R</text><text x="5" y="0.5" textLength="7.2" lengthAdjust="spacingAndGlyphs" class="s">mic</text><text x="14.9" y="0" textLength="4.7" lengthAdjust="spacingAndGlyphs" class="e">=</text><text x="21.7" y="0" textLength="11.9" lengthAdjust="spacingAndGlyphs">0.80</text><text x="35.5" y="0" textLength="7.3" lengthAdjust="spacingAndGlyphs">m,</text><text x="45.1" y="0" textLength="4.8" lengthAdjust="spacingAndGlyphs" class="i">R</text><text x="49.9" y="0.5" textLength="1.9" lengthAdjust="spacingAndGlyphs" class="s">s</text><text x="54.7" y="0" textLength="4.4" lengthAdjust="spacingAndGlyphs" class="e">=</text><text x="61.3" y="0" textLength="8.5" lengthAdjust="spacingAndGlyphs">1.8</text><text x="71.5" y="0" textLength="5.8" lengthAdjust="spacingAndGlyphs">m</text></g>
<path d="M309.4 282.5H323.6" stroke="#9859a5" stroke-width="0.9"/>
<circle cx="317.7" cy="282.5" r="1.6" stroke="#8b4499" stroke-width="0.95" fill="#fff"/>
<g class="lg" transform="translate(327.6 284.4) scale(1 1.0)"><text x="0" y="0" textLength="5" lengthAdjust="spacingAndGlyphs" class="i">R</text><text x="5" y="0.5" textLength="7.2" lengthAdjust="spacingAndGlyphs" class="s">mic</text><text x="14.9" y="0" textLength="4.7" lengthAdjust="spacingAndGlyphs" class="e">=</text><text x="21.7" y="0" textLength="11.9" lengthAdjust="spacingAndGlyphs">0.80</text><text x="35.5" y="0" textLength="7.3" lengthAdjust="spacingAndGlyphs">m,</text><text x="45.1" y="0" textLength="4.8" lengthAdjust="spacingAndGlyphs" class="i">R</text><text x="49.9" y="0.5" textLength="1.9" lengthAdjust="spacingAndGlyphs" class="s">s</text><text x="54.7" y="0" textLength="4.4" lengthAdjust="spacingAndGlyphs" class="e">=</text><text x="61.3" y="0" textLength="8.5" lengthAdjust="spacingAndGlyphs">1.9</text><text x="71.5" y="0" textLength="5.8" lengthAdjust="spacingAndGlyphs">m</text></g>
<path d="M309.4 290.5H323.6" stroke="#92bd59" stroke-width="0.9"/>
<circle cx="317.7" cy="290.5" r="1.6" stroke="#85b445" stroke-width="0.95" fill="#fff"/>
<g class="lg" transform="translate(327.6 292.4) scale(1 1.0)"><text x="0" y="0" textLength="5" lengthAdjust="spacingAndGlyphs" class="i">R</text><text x="5" y="0.5" textLength="7.2" lengthAdjust="spacingAndGlyphs" class="s">mic</text><text x="14.9" y="0" textLength="4.7" lengthAdjust="spacingAndGlyphs" class="e">=</text><text x="21.7" y="0" textLength="11.9" lengthAdjust="spacingAndGlyphs">0.80</text><text x="35.5" y="0" textLength="7.3" lengthAdjust="spacingAndGlyphs">m,</text><text x="45.1" y="0" textLength="4.8" lengthAdjust="spacingAndGlyphs" class="i">R</text><text x="49.9" y="0.5" textLength="1.9" lengthAdjust="spacingAndGlyphs" class="s">s</text><text x="54.7" y="0" textLength="4.4" lengthAdjust="spacingAndGlyphs" class="e">=</text><text x="61.3" y="0" textLength="8.5" lengthAdjust="spacingAndGlyphs">2.0</text><text x="71.5" y="0" textLength="5.8" lengthAdjust="spacingAndGlyphs">m</text></g>
</svg>
</body></html>
